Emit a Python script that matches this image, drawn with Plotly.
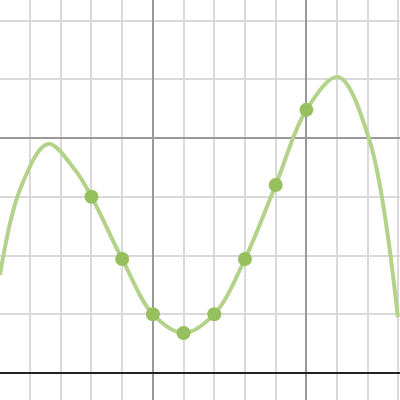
import plotly.graph_objects as go

curve_x = [-4.98, -4.33, -3.42, -2.54, -2, -1, 0, 1, 2, 3, 4, 5, 6.03, 7.04, 7.98]
curve_y = [1.67, 3.12, 3.90, 3.46, 3.0, 1.94, 1.0, 0.68, 1.0, 1.94, 3.2, 4.48, 5.04, 3.99, 0.95]
pts_x = [-2, -1, 0, 1, 2, 3, 4, 5]
pts_y = [3.0, 1.94, 1.0, 0.68, 1.0, 1.94, 3.2, 4.48]

fig = go.Figure()
fig.add_trace(go.Scatter(x=curve_x, y=curve_y, mode="lines",
                         line=dict(color="#b3d28a", width=4, shape="spline", smoothing=1.0),
                         hoverinfo="skip"))
fig.add_trace(go.Scatter(x=pts_x, y=pts_y, mode="markers",
                         marker=dict(color="#96c05e", size=14, line=dict(width=0))))
fig.update_layout(width=400, height=400, margin=dict(l=0, r=0, t=0, b=0),
                  paper_bgcolor="white", plot_bgcolor="white", showlegend=False)
fig.update_xaxes(range=[-4.98, 8.05], dtick=5, tick0=0, showgrid=True, gridcolor="#999999", gridwidth=1.5,
                 minor=dict(dtick=1, tick0=0, showgrid=True, gridcolor="#d9d9d9", gridwidth=1.5),
                 zeroline=False, showticklabels=False, ticks="")
fig.update_yaxes(range=[-0.46, 6.35], dtick=4, tick0=0, showgrid=True, gridcolor="#999999", gridwidth=1.5,
                 minor=dict(dtick=1, tick0=0, showgrid=True, gridcolor="#d9d9d9", gridwidth=1.5),
                 zeroline=True, zerolinecolor="#222222", zerolinewidth=2,
                 showticklabels=False, ticks="")
fig.write_html("out.html", config={"displayModeBar": False},
               post_script="document.body.style.margin='0';")
